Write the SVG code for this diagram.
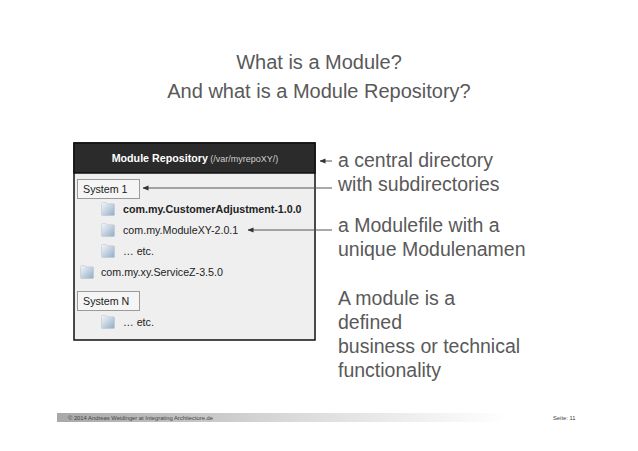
<svg xmlns="http://www.w3.org/2000/svg" width="638" height="451" viewBox="0 0 638 451">
<defs>
<style>
.t{font-family:"Liberation Sans",Arial,sans-serif;}
.title{font-size:20px;fill:#595959;text-anchor:middle;}
.note{font-size:19.5px;fill:#595959;}
.item{font-size:10.7px;fill:#222;}
.sysbox{fill:#f5f5f5;stroke:#9a9a9a;stroke-width:1;}
.conn{stroke:#555;stroke-width:1;fill:none;marker-end:url(#ah);}
.foot{font-size:5.8px;fill:#444;}
</style>
<marker id="ah" viewBox="0 0 6 6" refX="5.5" refY="3" markerWidth="6" markerHeight="6" markerUnits="userSpaceOnUse" orient="auto">
<path d="M0,0.6 L6,3 L0,5.4 Z" fill="#333"/>
</marker>
<linearGradient id="fold" x1="0" y1="0" x2="1" y2="1">
<stop offset="0" stop-color="#f4f7fa"/>
<stop offset="0.45" stop-color="#c9d6e3"/>
<stop offset="1" stop-color="#93aac2"/>
</linearGradient>
<linearGradient id="bar" x1="0" y1="0" x2="1" y2="0">
<stop offset="0" stop-color="#a8a8a8"/>
<stop offset="0.5" stop-color="#d8d8d8"/>
<stop offset="1" stop-color="#ffffff"/>
</linearGradient>
<symbol id="folder" viewBox="0 0 14 14" overflow="visible">
<path d="M0.5,1.5 Q0.5,0.5 1.5,0.5 L5,0.5 L6,1.8 L12.5,1.8 Q13.5,1.8 13.5,2.8 L13.5,12.5 Q13.5,13.5 12.5,13.5 L1.5,13.5 Q0.5,13.5 0.5,12.5 Z" fill="url(#fold)" stroke="#b5c3d2" stroke-width="0.5"/>
</symbol>
</defs>
<rect width="638" height="451" fill="#ffffff"/>

<g id="title">
<text class="t title" x="319" y="69">What is a Module?</text>
<text class="t title" x="319" y="98">And what is a Module Repository?</text>
</g>

<g id="repository">
<rect x="74" y="143" width="241" height="197" fill="#efefef" stroke="#111" stroke-width="1.5"/>
<rect x="74" y="143" width="241" height="30" fill="#2b2b2b" stroke="#111" stroke-width="1.5"/>
<text class="t" x="195" y="162" text-anchor="middle"><tspan font-size="10.7px" font-weight="bold" fill="#ffffff">Module Repository</tspan><tspan font-size="9px" fill="#d0d0d0"> (/var/myrepoXY/)</tspan></text>
</g>

<g id="system1">
<rect class="sysbox" x="77.5" y="179.5" width="62" height="19"/>
<text class="t item" x="83" y="193">System 1</text>
</g>

<g id="module-customer">
<use href="#folder" x="101" y="202" width="14" height="14"/>
<text class="t item" x="123" y="213" font-weight="bold">com.my.CustomerAdjustment-1.0.0</text>
</g>

<g id="module-xy">
<use href="#folder" x="101" y="223" width="14" height="14"/>
<text class="t item" x="123" y="234">com.my.ModuleXY-2.0.1</text>
</g>

<g id="etc1">
<use href="#folder" x="101" y="244" width="14" height="14"/>
<text class="t item" x="123" y="255">… etc.</text>
</g>

<g id="service-z">
<use href="#folder" x="80" y="265" width="14" height="14"/>
<text class="t item" x="101" y="276">com.my.xy.ServiceZ-3.5.0</text>
</g>

<g id="systemN">
<rect class="sysbox" x="77.5" y="291.5" width="62" height="19"/>
<text class="t item" x="83" y="305">System N</text>
</g>

<g id="etc2">
<use href="#folder" x="101" y="315" width="14" height="14"/>
<text class="t item" x="123" y="326">… etc.</text>
</g>

<g id="notes">
<text class="t note" x="338" y="167">a central directory</text>
<text class="t note" x="338" y="191">with subdirectories</text>
<text class="t note" x="338" y="232">a Modulefile with a</text>
<text class="t note" x="338" y="256">unique Modulenamen</text>
<text class="t note" x="338" y="305">A module is a</text>
<text class="t note" x="338" y="329">defined</text>
<text class="t note" x="338" y="353">business or technical</text>
<text class="t note" x="338" y="377">functionality</text>
</g>

<g id="connectors">
<line class="conn" x1="332" y1="161" x2="320" y2="161"/>
<line class="conn" x1="332" y1="188" x2="143" y2="188"/>
<line class="conn" x1="332" y1="230" x2="248" y2="230"/>
</g>

<g id="footer">
<rect x="57" y="413" width="450" height="9" fill="url(#bar)"/>
<text class="t foot" x="68" y="419.5">© 2014 Andreas Weidinger at Integrating Architecture.de</text>
<text class="t foot" x="553" y="419.5">Seite: 11</text>
</g>
</svg>
